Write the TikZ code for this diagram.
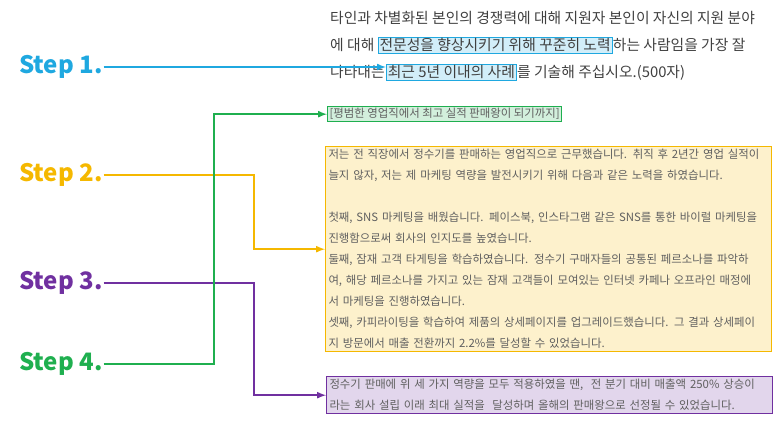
\documentclass[tikz,border=0pt]{standalone}
\usepackage{fontspec}
\setmainfont{Noto Sans CJK KR}
\usetikzlibrary{positioning, calc}
\definecolor{qtext}{HTML}{404040}
\definecolor{btext}{HTML}{606060}
\definecolor{sblue}{HTML}{1FA8E0}
\definecolor{sorange}{HTML}{F5B800}
\definecolor{spurple}{HTML}{7030A0}
\definecolor{sgreen}{HTML}{1FAF4F}
\tikzset{
  steplabel/.style={font=\fontsize{24}{28}\selectfont\bfseries, anchor=west, inner sep=1pt},
  qline/.style={font=\fontsize{14.8}{17}\selectfont, text=qtext, inner sep=0pt, anchor=base west},
  hl/.style={qline, draw=sblue, fill=sblue!20, line width=1pt, inner sep=1.5pt},
  answer/.style={draw, line width=1pt, anchor=north west, align=left, inner sep=3pt,
    text=btext, font=\fontsize{11.4}{21}\selectfont},
  link/.style={line width=2pt, -latex}
}
\begin{document}
\begin{tikzpicture}[x=1pt, y=-1pt]
\useasboundingbox (0,0) rectangle (773,435);
% question
\node (q1) [qline] at (330,24) {타인과 차별화된 본인의 경쟁력에 대해 지원자 본인이 자신의 지원 분야};
\node (q2a) [qline] at (330,51) {에 대해};
\node (h1) [hl, base right=3pt of q2a] {전문성을 향상시키기 위해 꾸준히 노력};
\node (q2b) [qline, base right=0pt of h1] {하는 사람임을 가장 잘};
\node (q3a) [qline] at (330,78) {나타내는};
\node (h2) [hl, base right=1pt of q3a] {최근 5년 이내의 사례};
\node (q3b) [qline, base right=0pt of h2] {를 기술해 주십시오.(500자)};
% answer boxes
\node (title) [answer, draw=sgreen, fill=sgreen!20, font=\fontsize{11.4}{14}\selectfont, inner sep=2pt] at (327,106) {[평범한 영업직에서 최고 실적 판매왕이 되기까지]};
\node (body) [answer, draw=sorange, fill=sorange!20, text width=440pt] at (325,146) {저는 전 직장에서 정수기를 판매하는 영업직으로 근무했습니다. 취직 후 2년간 영업 실적이\\늘지 않자, 저는 제 마케팅 역량을 발전시키기 위해 다음과 같은 노력을 하였습니다.\\[21pt]첫째, SNS 마케팅을 배웠습니다. 페이스북, 인스타그램 같은 SNS를 통한 바이럴 마케팅을\\진행함으로써 회사의 인지도를 높였습니다.\\둘째, 잠재 고객 타게팅을 학습하였습니다. 정수기 구매자들의 공통된 페르소나를 파악하\\여, 해당 페르소나를 가지고 있는 잠재 고객들이 모여있는 인터넷 카페나 오프라인 매정에\\서 마케팅을 진행하였습니다.\\셋째, 카피라이팅을 학습하여 제품의 상세페이지를 업그레이드했습니다. 그 결과 상세페이\\지 방문에서 매출 전환까지 2.2\%를 달성할 수 있었습니다.};
\node (result) [answer, draw=spurple, fill=spurple!20, text width=440pt] at (326,376) {정수기 판매에 위 세 가지 역량을 모두 적용하였을 땐,\ \ 전 분기 대비 매출액 250\% 상승이\\라는 회사 설립 이래 최대 실적을\ \ 달성하며 올해의 판매왕으로 선정될 수 있었습니다.};
% steps
\node (s1) [steplabel, text=sblue] at (18,67) {Step 1.};
\node (s2) [steplabel, text=sorange] at (18,175) {Step 2.};
\node (s3) [steplabel, text=spurple] at (18,283) {Step 3.};
\node (s4) [steplabel, text=sgreen] at (18,364) {Step 4.};
% links
\draw [link, sblue] (s1.east) -- (s1.east -| h2.west);
\draw [link, sorange] (s2.east) -- ++(150,0) |- (body.west);
\draw [link, spurple] (s3.east) -- ++(150,0) |- (result.west);
\draw [link, sgreen] (s4.east) -- ++(110,0) |- (title.west);
\end{tikzpicture}
\end{document}
